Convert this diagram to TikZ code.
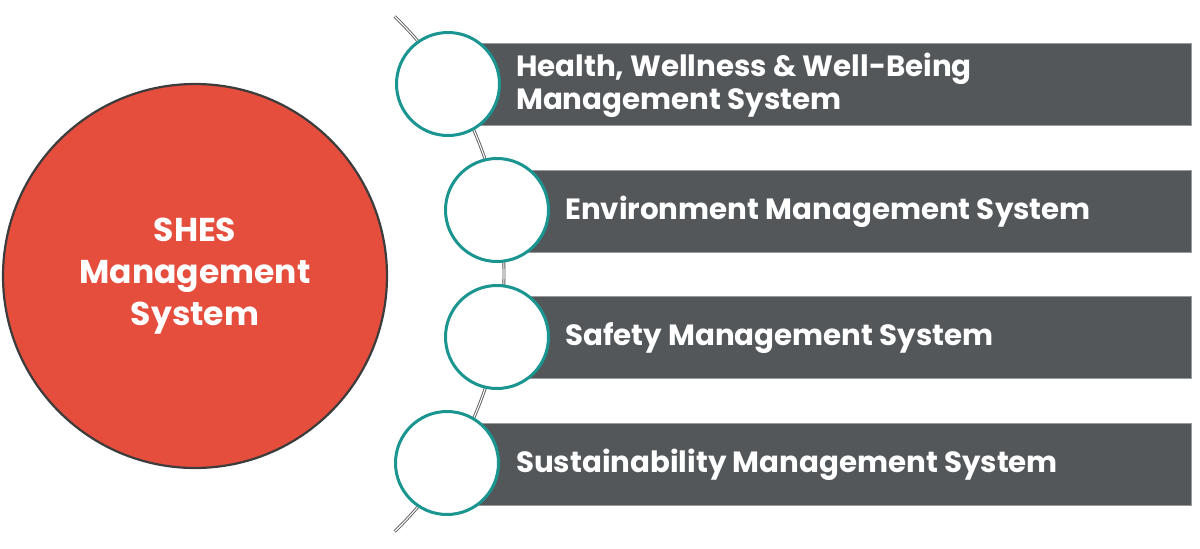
\documentclass[tikz,border=0pt]{standalone}
\usepackage{fontspec}
\setmainfont{Poppins}
\definecolor{shesred}{HTML}{E54D3D}
\definecolor{barfill}{HTML}{53575A}
\definecolor{ringteal}{HTML}{1A9590}
\definecolor{ringline}{HTML}{5A5A5A}
\begin{document}
\begin{tikzpicture}[x=1pt,y=-1pt,
  bar/.style={fill=barfill, draw=barfill!60!white, line width=0.6pt, inner sep=0pt, anchor=west, minimum height=82pt},
  ring/.style={circle, fill=white, draw=ringteal, line width=3pt, minimum size=103pt, inner sep=0pt},
  bartext/.style={text=white, font=\fontsize{29.3}{33}\selectfont\bfseries, anchor=west, align=left, inner sep=0pt},
  spine/.style={draw=ringline, double=white, double distance=1.1pt, line width=0.9pt}
]
\useasboundingbox (0,0) rectangle (1200,549);
% spine arc
\draw[spine] plot[domain=46:-46, samples=80, smooth] ({146+358*cos(\x)},{274-358*sin(\x)});
% bars
\node[bar, minimum width=743pt] (b1) at (448,84.5) {};
\node[bar, minimum width=694pt] (b2) at (497,211) {};
\node[bar, minimum width=694pt] (b3) at (497,337.5) {};
\node[bar, minimum width=744pt] (b4) at (447,464) {};
% main circle
\node[circle, fill=shesred, draw={rgb,255:red,60;green,60;blue,60}, line width=2.2pt, minimum size=384pt, inner sep=0pt,
      text=white, align=center, font=\fontsize{33}{42}\selectfont\bfseries] (shes) at (195,276) {SHES\\Management\\System};
% rings
\node[ring] (r1) at (448,84) {};
\node[ring] (r2) at (497,210) {};
\node[ring] (r3) at (497,337) {};
\node[ring] (r4) at (447,463) {};
% texts
\node[bartext] (t1) at (516,85.5) {Health, Wellness \& Well-Being\\Management System};
\node[bartext] (t2) at (565,212) {Environment Management System};
\node[bartext] (t3) at (565,338.5) {Safety Management System};
\node[bartext] (t4) at (516,465) {Sustainability Management System};
\end{tikzpicture}
\end{document}
